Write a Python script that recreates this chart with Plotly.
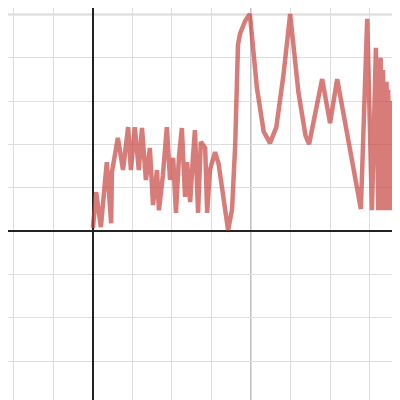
import plotly.graph_objects as go

# curve samples
xs = [0, .08, .2, .28, .35, .46, .48, .63, .76, .89, .96, 1.06, 1.16, 1.24, 1.34, 1.44, 1.52,
      1.62, 1.67, 1.77, 1.87, 1.95, 2.03, 2.10, 2.18, 2.25, 2.33, 2.38, 2.46, 2.53, 2.58, 2.66,
      2.73, 2.84, 2.89, 2.96, 3.09, 3.18, 3.30, 3.42, 3.52, 3.60, 3.67, 3.72, 3.85, 3.97,
      4.15, 4.32, 4.48, 4.64, 4.82, 4.99, 5.2, 5.38, 5.47, 5.80, 6.0,
      6.18, 6.78, 6.94, 7.06, 7.16, 7.22, 7.28, 7.31, 7.34, 7.39, 7.43, 7.45, 7.47, 7.52,
      7.55, 7.57, 7.59, 7.62, 7.65, 7.67, 7.69, 7.70, 7.72, 7.74, 7.76, 7.77]
ys = [.07, .9, .09, .88, 1.59, .18, 1.36, 2.15, 1.41, 2.4, 1.41, 2.4, 1.41, 2.38, 1.18, 1.92, .6,
      1.41, .48, 1.29, 2.4, 1.18, 1.69, .42, 1.76, 2.38, .79, 1.59, .67, 1.71, 2.33, .42,
      2.06, 1.92, .42, 1.41, 1.82, 1.55, .75, .02, .5, 2.0, 4.3, 4.55, 4.85, 5.01,
      3.3, 2.3, 2.03, 2.4, 3.6, 5.01, 3.2, 2.2, 2.01, 3.51, 2.49,
      3.51, .51, 4.9, .48, 4.23, .48, 4.0, .48, 3.72, .48, 3.45, .48, 3.26, .48,
      3.0, .48, 2.79, .48, 2.65, .48, 2.56, .48, 2.45, .48, 2.4, .48]

major_x = [4]
major_y = [5]

fig = go.Figure(go.Scatter(x=xs, y=ys, mode="lines",
                           line=dict(color="rgba(199,68,64,0.7)", width=4.5),
                           hoverinfo="skip"))

shapes = [dict(type="line", x0=v, x1=v, y0=0, y1=1, yref="paper", line=dict(color="#aaaaaa", width=1.5), layer="below") for v in major_x]
shapes += [dict(type="line", y0=v, y1=v, x0=0, x1=1, xref="paper", line=dict(color="#aaaaaa", width=1.5), layer="below") for v in major_y]

fig.update_layout(
    width=392, height=392, margin=dict(l=0, r=0, t=0, b=0),
    plot_bgcolor="white", paper_bgcolor="white", showlegend=False, shapes=shapes,
    xaxis=dict(range=[-2.15, 7.77], dtick=1, gridcolor="#dddddd", gridwidth=1, showticklabels=False,
               zeroline=True, zerolinecolor="#222222", zerolinewidth=2),
    yaxis=dict(range=[-3.9, 5.15], dtick=1, gridcolor="#dddddd", gridwidth=1, showticklabels=False,
               zeroline=True, zerolinecolor="#222222", zerolinewidth=2),
)

fig.write_html("out.html")
